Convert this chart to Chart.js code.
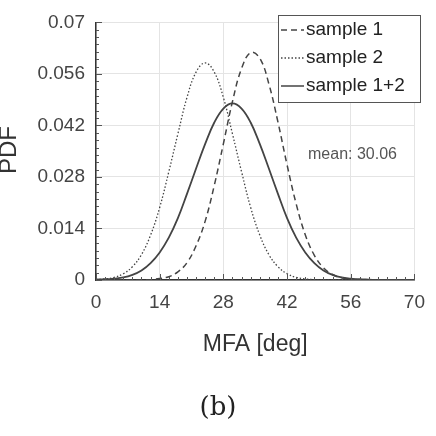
<!DOCTYPE html>
<html><head><meta charset="utf-8">
<script src="https://cdn.jsdelivr.net/npm/chart.js@4"></script>
<style>html,body{margin:0;padding:0;background:#fff;overflow:hidden}#w{position:relative;width:436px;height:436px}</style>
</head><body><div id="w"><canvas id="c" width="436" height="436"></canvas></div>
<script>
const xs=[0,2,4,6,8,10,12,14,16,18,20,22,24,26,28,30,32,34,36,38,40,42,44,46,48,50,52,54,56,58,60,62,64,66,68,70];
const sample1=[0,0,0,0,0,0.00004,0.0001,0.0004,0.0009,0.0022,0.0047,0.0093,0.016,0.0257,0.037,0.0485,0.0575,0.0618,0.0603,0.0533,0.0429,0.0313,0.0207,0.0123,0.0067,0.0033,0.0015,0.0006,0.0002,0.0001,0,0,0,0,0,0];
const sample2=[0.0001,0.0003,0.0007,0.0017,0.0036,0.0069,0.0122,0.0197,0.0294,0.0397,0.0496,0.0565,0.059,0.0565,0.0496,0.0397,0.0294,0.0197,0.0122,0.0069,0.0036,0.0017,0.0007,0.0003,0.0001,0,0,0,0,0,0,0,0,0,0,0];
const sample12=[0.0001,0.0002,0.0004,0.0007,0.0014,0.0026,0.0046,0.0075,0.0115,0.0168,0.0234,0.0303,0.037,0.0428,0.0466,0.048,0.0466,0.0428,0.037,0.0303,0.0234,0.0168,0.0115,0.0075,0.0046,0.0026,0.0014,0.0007,0.0004,0.0002,0.0001,0,0,0,0,0];
const labels=['sample 1','sample 2','sample 1+2'];
const xTicks=[0,14,28,42,56,70];
const yTicks=[0,0.014,0.028,0.042,0.056,0.07];
const meanText='mean: 30.06';
const pts=a=>a.map((v,i)=>({x:xs[i],y:v}));
const textPlugin={id:'t',afterDraw(ch){const c=ch.ctx,a=ch.chartArea,sx=ch.scales.x,sy=ch.scales.y;c.save();
c.strokeStyle='#555';c.lineWidth=1;c.beginPath();
for(let v=0;v<=70;v+=2){const px=Math.round(sx.getPixelForValue(v))+0.5;const L=v%14==0?6:3;c.moveTo(px,a.bottom);c.lineTo(px,a.bottom-L);}
for(let v=0;v<=70;v+=2){const py=Math.round(sy.getPixelForValue(v/1000))+0.5;const L=v%14==0?6:3;c.moveTo(a.left,py);c.lineTo(a.left+L,py);}
c.stroke();
c.fillStyle='#333';
c.font='23px "Liberation Sans", Arial';c.textAlign='center';c.textBaseline='middle';
c.fillText('MFA [deg]',(a.left+a.right)/2,345);
c.save();c.translate(9,150);c.rotate(-Math.PI/2);c.font='24px "Liberation Sans", Arial';c.fillText('PDF',0,0);c.restore();
c.font='26px "DejaVu Serif", serif';c.fillStyle='#222';c.fillText('(b)',218,408);
c.font='16px "Liberation Sans", Arial';c.fillStyle='#555';c.textAlign='left';c.fillText(meanText,308,155);
const lx=278,ly=15,lw=142,lh=87;c.fillStyle='#fff';c.fillRect(lx,ly,lw,lh);c.strokeStyle='#555';c.lineWidth=1;c.strokeRect(lx+0.5,ly+0.5,lw,lh);
const dashes=[[6,4],[1.5,2],[]];c.font='19px "Liberation Sans", Arial';c.fillStyle='#222';
labels.forEach((l,i)=>{const y=ly+15+i*28;c.beginPath();c.setLineDash(dashes[i]);c.strokeStyle='#444';c.lineWidth=i==2?1.5:1.3;c.moveTo(lx+3,y);c.lineTo(lx+26,y);c.stroke();c.setLineDash([]);c.fillText(l,lx+28,y);});
c.restore();}};
const ds=(l,d,dash,w)=>({label:l,data:pts(d),borderColor:'#444',borderWidth:w,borderDash:dash,pointRadius:0,tension:0.4,fill:false});
new Chart(document.getElementById('c'),{type:'line',
data:{datasets:[ds(labels[0],sample1,[6,4],1.5),ds(labels[1],sample2,[1.5,2],1.3),ds(labels[2],sample12,[],1.8)]},
options:{responsive:false,animation:false,layout:{padding:{top:10,right:9,left:0,bottom:0}},
plugins:{legend:{display:false},tooltip:{enabled:false}},
scales:{
x:{type:'linear',min:0,max:70,afterBuildTicks(s){s.ticks=xTicks.map(v=>({value:v}));},afterFit(s){s.height=156;},
 grid:{color:'#e4e4e4',drawTicks:false},border:{color:'#333',width:1.5},
 ticks:{color:'#444',font:{size:19,family:'"Liberation Sans", Arial'},maxRotation:0,padding:11}},
y:{min:0,max:0.07,afterBuildTicks(s){s.ticks=yTicks.map(v=>({value:v}));},afterFit(s){s.width=96;},
 grid:{color:'#e4e4e4',drawTicks:false},border:{color:'#333',width:1.5},
 ticks:{color:'#444',font:{size:19,family:'"Liberation Sans", Arial'},padding:11,callback:v=>String(+v.toFixed(3))}}}},
plugins:[textPlugin]});
</script></body></html>
